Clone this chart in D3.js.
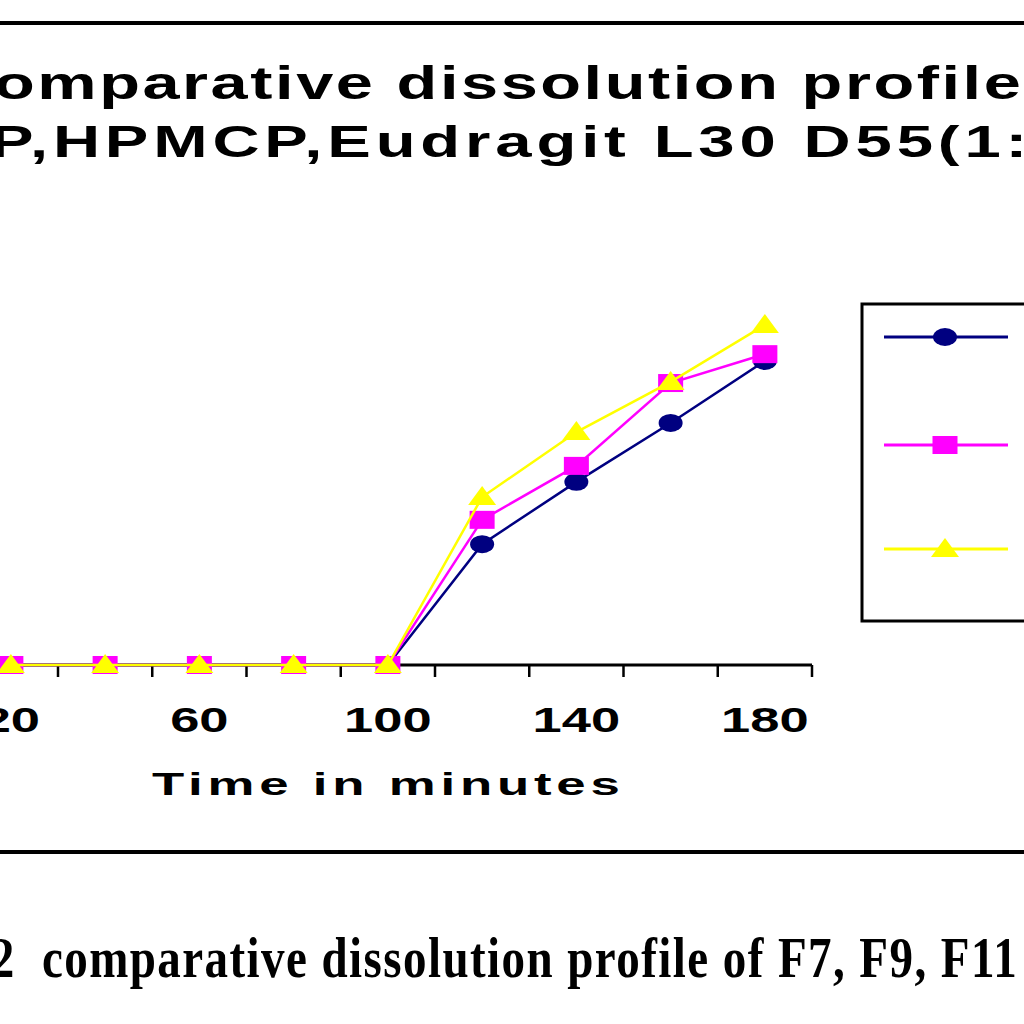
<!DOCTYPE html>
<html><head><meta charset="utf-8">
<script src="https://cdn.jsdelivr.net/npm/d3@7"></script>
<style>html,body{margin:0;padding:0;background:#fff;overflow:hidden} text{white-space:pre}</style>
</head><body><svg id="c" width="1024" height="1024"></svg>
<script>
// ---- data ----
const times = [20, 40, 60, 80, 100, 120, 140, 160, 180];
const tickLabels = [20, 60, 100, 140, 180];
const seriesNames = ["F7", "F9", "F11"];
const f7  = [0, 0, 0, 0, 0, 31.8, 48.2, 63.7, 80.0];
const f9  = [0, 0, 0, 0, 0, 38.2, 52.4, 74.2, 81.8];
const f11 = [0, 0, 0, 0, 0, 44.2, 61.3, 74.5, 89.5];
const titleLine1 = "Comparative dissolution profile of";
const titleLine2 = "CAP,HPMCP,Eudragit L30 D55(1:1)";
const xTitle = "Time in minutes";
const caption = "Figure 2  comparative dissolution profile of F7, F9, F11";

const colors = ["#000080", "#FF00FF", "#FFFF00"];
const shapes = ["circle", "square", "triangle"];
const series = [f7, f9, f11].map((vals, i) => ({name: seriesNames[i], vals, color: colors[i], shape: shapes[i]}));

const svg = d3.select("#c");
svg.append("rect").attr("width", 1024).attr("height", 1024).attr("fill", "#fff");

const sans = "'Liberation Sans', Arial, sans-serif";
const serif = "'Liberation Serif', 'Times New Roman', serif";

function fitText(g, o) {
  const t = g.append("text").text(o.text)
    .attr("font-family", o.family).attr("font-size", o.size)
    .attr("font-weight", o.weight || "bold").attr("fill", o.fill || "#000")
    .attr("x", 0).attr("y", 0);
  const node = t.node();
  const from = o.from || 0, to = (o.to == null) ? o.text.length : o.to;
  const n = to - from;
  const Wsub = node.getSubStringLength(from, n);
  const Wpre = from > 0 ? node.getSubStringLength(0, from) : 0;
  const sx = o.sx || 1;
  const ls = n > 1 ? ((o.x2 - o.x1) / sx - Wsub) / (n - 1) : 0;
  const x0 = o.x1 - sx * (Wpre + from * ls);
  t.style("letter-spacing", ls + "px")
   .attr("transform", `translate(${x0},${o.y}) scale(${sx},1)`);
  return t;
}

// frame lines
svg.append("line").attr("x1", 0).attr("x2", 1024).attr("y1", 23).attr("y2", 23).attr("stroke", "#000").attr("stroke-width", 4);
svg.append("line").attr("x1", 0).attr("x2", 1024).attr("y1", 852).attr("y2", 852).attr("stroke", "#000").attr("stroke-width", 4);

// titles
fitText(svg, {text: titleLine1, family: sans, size: 46, sx: 1.45, from: 1, to: "Comparative dissolution profile".length, x1: -6, x2: 1021, y: 99});
fitText(svg, {text: titleLine2, family: sans, size: 45, sx: 1.45, from: 2, to: "CAP,HPMCP,Eudragit L30 D55(1".length, x1: -10, x2: 1001, y: 157});

// scales
const x = d3.scaleBand().domain(times).range([-36.25, 812]).padding(0);
const bw = x.bandwidth();
const y = d3.scaleLinear().domain([0, 100]).range([665, 285]);
const cx = d => x(d) + bw / 2;

// axis
const axis = svg.append("g");
axis.append("line").attr("x1", x(times[0])).attr("x2", x(times[times.length - 1]) + bw)
  .attr("y1", y(0)).attr("y2", y(0)).attr("stroke", "#000").attr("stroke-width", 3);
const bounds = [x(times[0])].concat(times.map(t => x(t) + bw));
axis.selectAll("line.tk").data(bounds).join("line").attr("class", "tk")
  .attr("x1", d => d).attr("x2", d => d).attr("y1", y(0)).attr("y2", y(0) + 12)
  .attr("stroke", "#000").attr("stroke-width", 2.5);
axis.selectAll("text.tl").data(tickLabels).join("text").attr("class", "tl")
  .attr("transform", d => `translate(${cx(d)},732) scale(1.5,1)`)
  .attr("text-anchor", "middle").attr("font-family", sans).attr("font-size", 35)
  .attr("font-weight", "bold").attr("fill", "#000").text(d => d);

fitText(svg, {text: xTitle, family: sans, size: 32, sx: 1.65, x1: 152, x2: 620, y: 795});

// series
function marker(sel, shape, color) {
  if (shape === "circle") {
    sel.append("ellipse").attr("rx", 12).attr("ry", 9).attr("fill", color);
  } else if (shape === "square") {
    sel.append("rect").attr("x", -12.5).attr("y", -9).attr("width", 25).attr("height", 18).attr("fill", color);
  } else {
    sel.append("path").attr("d", "M0,-11L14,8L-14,8Z").attr("fill", color);
  }
}
const line = d3.line().x((d, i) => cx(times[i])).y(d => y(d));
series.forEach(s => {
  const g = svg.append("g");
  g.append("path").attr("d", line(s.vals)).attr("fill", "none").attr("stroke", s.color).attr("stroke-width", 2.5);
  s.vals.forEach((v, i) => {
    const m = g.append("g").attr("transform", `translate(${cx(times[i])},${y(v)})`);
    marker(m, s.shape, s.color);
  });
});

// legend
const lg = svg.append("g");
lg.append("rect").attr("x", 862).attr("y", 304).attr("width", 220).attr("height", 317)
  .attr("fill", "none").attr("stroke", "#000").attr("stroke-width", 3);
const legY = [337, 445, 549];
series.forEach((s, i) => {
  lg.append("line").attr("x1", 884).attr("x2", 1008).attr("y1", legY[i]).attr("y2", legY[i])
    .attr("stroke", s.color).attr("stroke-width", 3);
  const m = lg.append("g").attr("transform", `translate(945,${legY[i]})`);
  marker(m, s.shape, s.color);
  lg.append("text").attr("x", 1030).attr("y", legY[i] + 10).attr("font-family", sans)
    .attr("font-size", 30).attr("font-weight", "bold").attr("fill", "#000").text(s.name);
});

// caption
fitText(svg, {text: caption, family: serif, size: 56, sx: 0.84, from: caption.indexOf("comparative"), x1: 42, x2: 1017, y: 977});
</script></body></html>
